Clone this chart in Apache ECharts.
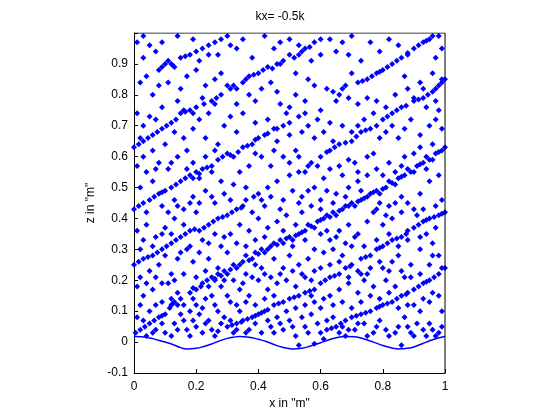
<!DOCTYPE html>
<html><head><meta charset="utf-8">
<script src="https://cdn.jsdelivr.net/npm/echarts@6/dist/echarts.min.js"></script>
<style>html,body{margin:0;padding:0;background:#fff}#c{width:560px;height:420px}</style>
</head><body><div id="c"></div>
<script>
const bandA=[[0.18,0.16],[0.20,0.17],[0.22,0.19],[0.24,0.18],[0.25,0.21],[0.27,0.22],[0.29,0.23],[0.30,0.22],[0.32,0.25],[0.33,0.24],[0.35,0.26],[0.36,0.28],[0.38,0.27],[0.39,0.29],[0.41,0.30],[0.42,0.29],[0.44,0.31],[0.45,0.32],[0.47,0.33],[0.48,0.32],[0.50,0.34],[0.51,0.33],[0.53,0.35],[0.55,0.36],[0.56,0.38],[0.58,0.37],[0.59,0.39],[0.61,0.40],[0.62,0.41],[0.64,0.42],[0.65,0.41],[0.67,0.43],[0.68,0.44],[0.70,0.45],[0.71,0.44],[0.73,0.46],[0.75,0.47],[0.76,0.48],[0.78,0.49],[0.79,0.48],[0.81,0.50],[0.82,0.52],[0.84,0.51],[0.85,0.53],[0.87,0.54],[0.88,0.56],[0.90,0.55],[0.91,0.57],[0.93,0.58],[0.94,0.60],[0.96,0.59],[0.97,0.61],[0.99,0.62],[1.0,0.63],
[0.19,0.175],[0.215,0.18],[0.235,0.2],[0.26,0.205],[0.28,0.215],[0.31,0.235],[0.34,0.25],[0.37,0.265],[0.4,0.285],[0.43,0.3],[0.46,0.315],[0.49,0.335],[0.52,0.345],[0.54,0.355],[0.57,0.375],[0.6,0.395],[0.63,0.405],[0.66,0.425],[0.69,0.44],[0.72,0.455],[0.74,0.465],[0.77,0.485],[0.8,0.495],[0.83,0.515],[0.86,0.535],[0.89,0.55],[0.92,0.575],[0.95,0.59],[0.98,0.615]];
const bandB=[[0.0,0.43],[0.03,0.45],[0.05,0.46],[0.08,0.48],[0.1,0.49],[0.12,0.5],[0.15,0.52],[0.18,0.54],[0.2,0.55],[0.22,0.56],[0.25,0.57],[0.27,0.59],[0.3,0.61],[0.32,0.6],[0.35,0.63],[0.38,0.64],[0.4,0.66],[0.42,0.67],[0.45,0.69],[0.48,0.7],[0.5,0.71],[0.53,0.73],[0.55,0.74],
[0.015,0.44],[0.065,0.47],[0.09,0.485],[0.135,0.51],[0.165,0.53],[0.21,0.545],[0.235,0.565],[0.285,0.6],[0.31,0.605],[0.335,0.615],[0.365,0.635],[0.39,0.655],[0.43,0.675],[0.46,0.69],[0.17,0.56],[0.19,0.53]];
const bandC=[[0,0.63],[0.03,0.65],[0.06,0.67],[0.09,0.69],[0.12,0.71],[0.15,0.74],[0.18,0.75],[0.2,0.76],[0.25,0.78],[0.28,0.8],[0.3,0.83],[0.33,0.82],[0.35,0.84],[0.37,0.86],[0.4,0.87],[0.43,0.89],[0.46,0.9],[0.48,0.91],[0.5,0.93],[0.53,0.93],[0.55,0.95],[0.58,0.97],[0.6,0.98],
[0.015,0.64],[0.045,0.66],[0.075,0.68],[0.105,0.7],[0.135,0.72],[0.165,0.745],[0.19,0.74],[0.225,0.77],[0.265,0.79],[0.31,0.82],[0.32,0.83],[0.36,0.85],[0.385,0.865],[0.415,0.88],[0.445,0.885],[0.47,0.9],[0.515,0.92],[0.54,0.94],[0.565,0.955]];
const bandD=[[0,0.25],[0.03,0.27],[0.06,0.28],[0.09,0.3],[0.12,0.32],[0.15,0.34],[0.18,0.36],[0.21,0.36],[0.24,0.38],[0.27,0.4],[0.3,0.41],[0.33,0.43],[0.35,0.44],[0.36,0.46],[0.4,0.48],[0.43,0.5],[0.46,0.52],[0.5,0.54],[0.53,0.55],[0.56,0.57],[0.6,0.6],[0.63,0.62],[0.66,0.64],[0.7,0.65],[0.73,0.68],[0.76,0.69],[0.8,0.72],[0.83,0.74],[0.86,0.76],[0.9,0.78],[0.93,0.79],[0.96,0.81],[0.98,0.83],[1,0.85],
[0.015,0.26],[0.045,0.275],[0.075,0.29],[0.105,0.31],[0.135,0.33],[0.165,0.35],[0.195,0.365],[0.225,0.37],[0.255,0.39],[0.285,0.405],[0.315,0.42],[0.345,0.435],[0.385,0.47],[0.62,0.615],[0.645,0.63],[0.68,0.645],[0.715,0.665],[0.745,0.685],[0.78,0.7],[0.815,0.73],[0.845,0.75],[0.875,0.765],[0.915,0.785],[0.945,0.8],[0.97,0.82],[0.99,0.84]];
const bandE=[[0.45,0.12],[0.48,0.13],[0.5,0.14],[0.53,0.15],[0.55,0.16],[0.58,0.17],[0.6,0.19],[0.63,0.21],[0.66,0.22],[0.68,0.24],[0.7,0.25],[0.73,0.27],[0.76,0.28],[0.78,0.3],[0.8,0.31],[0.83,0.33],[0.86,0.34],[0.88,0.36],[0.9,0.37],[0.93,0.39],[0.95,0.4],[0.98,0.41],[1,0.42],
[0.465,0.125],[0.515,0.145],[0.565,0.165],[0.615,0.2],[0.645,0.215],[0.695,0.245],[0.745,0.275],[0.79,0.305],[0.815,0.32],[0.845,0.335],[0.875,0.35],[0.915,0.38],[0.94,0.395],[0.965,0.405],[0.99,0.415]];
const bandF=[[0.62,0.04],[0.65,0.05],[0.68,0.07],[0.7,0.08],[0.73,0.09],[0.76,0.1],[0.78,0.11],[0.8,0.12],[0.83,0.13],[0.86,0.15],[0.88,0.16],[0.9,0.17],[0.93,0.19],[0.95,0.2],[0.98,0.22],[1,0.24],
[0.635,0.045],[0.665,0.06],[0.715,0.085],[0.745,0.095],[0.79,0.115],[0.815,0.125],[0.845,0.14],[0.875,0.155],[0.915,0.18],[0.94,0.195],[0.965,0.21]];
const bandG=[[0.02,0.04],[0.05,0.06],[0.08,0.08],[0.1,0.09],[0.12,0.12],[0.13,0.13],[0.3,0.05],[0.33,0.06],[0.35,0.07],[0.38,0.08],[0.4,0.09],[0.42,0.1],[0.22,0.03],[0.25,0.04],
[0.035,0.05],[0.065,0.07],[0.09,0.085],[0.115,0.11],[0.125,0.125],[0.14,0.12],[0.315,0.055],[0.345,0.065],[0.365,0.075],[0.39,0.085],[0.41,0.095],[0.43,0.105],[0.27,0.035],[0.005,0.03]];
const bandH=[[0.08,0.88],[0.1,0.9],[0.12,0.9],[0.13,0.89],[0.15,0.92],[0.18,0.93],[0.22,0.95],[0.26,0.97],[0.3,0.99],[0.72,0.84],[0.75,0.85],[0.78,0.87],[0.8,0.88],[0.83,0.9],[0.86,0.92],[0.9,0.95],[0.93,0.97],[0.95,0.98],
[0.09,0.89],[0.11,0.91],[0.125,0.895],[0.165,0.925],[0.2,0.94],[0.24,0.96],[0.28,0.98],[0.735,0.845],[0.765,0.86],[0.79,0.875],[0.815,0.89],[0.845,0.91],[0.88,0.935],[0.915,0.96],[0.94,0.975],[0.96,0.99]];
const scatter=[
[0.01,0.97],[0.05,0.96],[0.14,0.99],[0.19,0.98],[0.35,0.98],[0.42,0.99],[0.47,0.97],[0.63,0.98],[0.7,0.99],[0.76,0.97],[0.82,0.98],[0.98,0.99],
[0.03,0.92],[0.07,0.94],[0.21,0.91],[0.24,0.93],[0.33,0.95],[0.38,0.92],[0.53,0.96],[0.57,0.91],[0.65,0.94],[0.69,0.93],[0.73,0.91],[0.88,0.93],[0.97,0.92],
[0.02,0.84],[0.04,0.86],[0.11,0.84],[0.17,0.86],[0.2,0.88],[0.26,0.85],[0.28,0.87],[0.41,0.82],[0.44,0.84],[0.52,0.87],[0.56,0.85],[0.62,0.82],[0.64,0.81],[0.66,0.8],[0.68,0.83],[0.7,0.87],[0.87,0.86],[0.92,0.84],[0.96,0.87],[0.99,0.85],
[0.01,0.74],[0.05,0.73],[0.09,0.76],[0.14,0.78],[0.16,0.75],[0.22,0.79],[0.24,0.74],[0.26,0.77],[0.33,0.77],[0.35,0.74],[0.47,0.77],[0.5,0.76],[0.52,0.8],[0.55,0.78],[0.6,0.75],[0.72,0.77],[0.75,0.79],[0.78,0.78],[0.81,0.76],[0.88,0.82],[0.9,0.79],[0.94,0.76],[0.98,0.75],
[0.02,0.66],[0.06,0.62],[0.1,0.64],[0.13,0.68],[0.16,0.66],[0.19,0.69],[0.23,0.66],[0.27,0.64],[0.33,0.68],[0.43,0.72],[0.46,0.65],[0.5,0.67],[0.56,0.7],[0.58,0.66],[0.61,0.68],[0.64,0.65],[0.67,0.7],[0.7,0.68],[0.74,0.72],[0.77,0.74],[0.81,0.68],[0.85,0.66],[0.89,0.72],[0.92,0.67],[0.95,0.7],[0.99,0.69],
[0.01,0.57],[0.04,0.55],[0.08,0.58],[0.11,0.56],[0.14,0.6],[0.17,0.62],[0.21,0.53],[0.25,0.55],[0.28,0.52],[0.37,0.57],[0.39,0.61],[0.41,0.6],[0.44,0.57],[0.48,0.6],[0.52,0.62],[0.55,0.55],[0.57,0.58],[0.59,0.57],[0.63,0.56],[0.66,0.57],[0.69,0.59],[0.72,0.55],[0.75,0.6],[0.78,0.56],[0.82,0.58],[0.84,0.55],[0.87,0.6],[0.92,0.63],[0.96,0.64],[0.98,0.54],
[0.02,0.5],[0.06,0.52],[0.09,0.44],[0.13,0.46],[0.16,0.43],[0.19,0.47],[0.23,0.49],[0.26,0.45],[0.29,0.48],[0.32,0.51],[0.36,0.5],[0.42,0.44],[0.44,0.47],[0.48,0.46],[0.51,0.49],[0.54,0.47],[0.58,0.5],[0.6,0.46],[0.62,0.49],[0.65,0.48],[0.69,0.5],[0.72,0.52],[0.75,0.54],[0.79,0.45],[0.82,0.44],[0.86,0.47],[0.88,0.45],[0.92,0.48],[0.95,0.52],[0.99,0.46],
[0.01,0.36],[0.04,0.38],[0.07,0.34],[0.1,0.37],[0.13,0.4],[0.16,0.38],[0.2,0.42],[0.22,0.33],[0.26,0.35],[0.28,0.31],[0.31,0.35],[0.34,0.38],[0.37,0.36],[0.4,0.4],[0.43,0.37],[0.46,0.39],[0.49,0.41],[0.52,0.38],[0.54,0.42],[0.57,0.44],[0.6,0.35],[0.63,0.33],[0.66,0.36],[0.69,0.38],[0.72,0.35],[0.75,0.39],[0.77,0.42],[0.8,0.38],[0.83,0.4],[0.86,0.42],[0.9,0.43],[0.94,0.35],[0.97,0.37],
[0.02,0.3],[0.05,0.23],[0.08,0.25],[0.1,0.28],[0.12,0.22],[0.14,0.27],[0.17,0.3],[0.19,0.26],[0.21,0.29],[0.24,0.27],[0.27,0.24],[0.3,0.29],[0.33,0.32],[0.36,0.22],[0.39,0.25],[0.42,0.22],[0.45,0.27],[0.48,0.24],[0.5,0.28],[0.53,0.25],[0.56,0.27],[0.58,0.23],[0.61,0.29],[0.64,0.3],[0.67,0.28],[0.7,0.31],[0.73,0.22],[0.76,0.24],[0.79,0.26],[0.82,0.23],[0.85,0.28],[0.89,0.25],[0.92,0.3],[0.96,0.28],[0.99,0.24],
[0.01,0.18],[0.03,0.15],[0.06,0.17],[0.09,0.13],[0.11,0.19],[0.14,0.16],[0.16,0.12],[0.19,0.14],[0.22,0.11],[0.25,0.15],[0.28,0.18],[0.31,0.13],[0.34,0.17],[0.37,0.15],[0.4,0.2],[0.43,0.17],[0.46,0.19],[0.49,0.2],[0.52,0.18],[0.55,0.21],[0.58,0.13],[0.6,0.11],[0.63,0.15],[0.66,0.17],[0.69,0.19],[0.72,0.16],[0.74,0.2],[0.77,0.18],[0.81,0.2],[0.84,0.18],[0.87,0.21],[0.9,0.12],[0.93,0.14],[0.96,0.16],[0.99,0.1],
[0.01,0.08],[0.04,0.02],[0.07,0.04],[0.1,0.03],[0.13,0.06],[0.15,0.09],[0.17,0.04],[0.19,0.07],[0.21,0.09],[0.24,0.07],[0.27,0.1],[0.29,0.08],[0.32,0.03],[0.34,0.1],[0.37,0.04],[0.39,0.06],[0.44,0.05],[0.46,0.08],[0.48,0.04],[0.5,0.07],[0.52,0.02],[0.55,0.05],[0.57,0.09],[0.59,0.06],[0.61,0.01],[0.64,0.08],[0.66,0.03],[0.68,0.02],[0.71,0.04],[0.74,0.06],[0.77,0.03],[0.79,0.07],[0.82,0.02],[0.85,0.05],[0.87,0.08],[0.89,0.03],[0.91,0.06],[0.94,0.02],[0.96,0.04],[0.98,0.03],[0.53,-0.01],[0.58,-0.005],[0.86,-0.01],
[0.03,0.99],[0.09,0.97],[0.27,0.93],[0.31,0.96],[0.45,0.95],[0.5,0.98],[0.6,0.93],[0.67,0.97],[0.79,0.94],[0.85,0.96],[0.99,0.95],
[0.06,0.8],[0.08,0.83],[0.15,0.82],[0.23,0.83],[0.37,0.8],[0.39,0.78],[0.46,0.81],[0.58,0.83],[0.65,0.78],[0.67,0.82],[0.69,0.79],[0.84,0.8],[0.93,0.82],[0.97,0.78],
[0.03,0.7],[0.07,0.72],[0.21,0.72],[0.29,0.7],[0.31,0.73],[0.39,0.71],[0.49,0.74],[0.54,0.68],[0.59,0.72],[0.63,0.71],[0.72,0.7],[0.79,0.66],[0.83,0.7],[0.87,0.69],[0.97,0.72],
[0.03,0.6],[0.07,0.56],[0.12,0.58],[0.19,0.58],[0.23,0.6],[0.26,0.62],[0.34,0.55],[0.45,0.62],[0.5,0.58],[0.53,0.6],[0.61,0.53],[0.67,0.54],[0.71,0.58],[0.77,0.61],[0.8,0.54],[0.86,0.57],[0.9,0.61],[0.94,0.56],
[0.04,0.42],[0.11,0.42],[0.14,0.44],[0.18,0.45],[0.21,0.45],[0.25,0.47],[0.31,0.46],[0.38,0.42],[0.41,0.46],[0.47,0.43],[0.53,0.45],[0.56,0.49],[0.6,0.43],[0.64,0.45],[0.68,0.47],[0.73,0.49],[0.78,0.43],[0.81,0.41],[0.84,0.45],[0.91,0.41],[0.93,0.43],[0.97,0.44],
[0.03,0.33],[0.06,0.31],[0.09,0.35],[0.12,0.35],[0.15,0.29],[0.18,0.31],[0.24,0.32],[0.29,0.34],[0.36,0.31],[0.39,0.33],[0.42,0.34],[0.48,0.36],[0.51,0.31],[0.55,0.33],[0.58,0.3],[0.62,0.36],[0.65,0.34],[0.68,0.32],[0.71,0.34],[0.74,0.31],[0.78,0.33],[0.82,0.35],[0.85,0.31],[0.88,0.33],[0.92,0.34],[0.96,0.32],
[0.02,0.21],[0.04,0.19],[0.07,0.21],[0.09,0.19],[0.13,0.2],[0.16,0.22],[0.2,0.21],[0.23,0.23],[0.26,0.2],[0.29,0.2],[0.32,0.2],[0.35,0.19],[0.38,0.21],[0.41,0.24],[0.44,0.21],[0.47,0.22],[0.51,0.23],[0.54,0.22],[0.57,0.2],[0.6,0.24],[0.63,0.25],[0.66,0.26],[0.69,0.21],[0.72,0.23],[0.75,0.22],[0.8,0.24],[0.83,0.26],[0.86,0.23],[0.89,0.21],[0.92,0.22],[0.95,0.25],[0.98,0.28],
[0.02,0.12],[0.05,0.1],[0.07,0.12],[0.12,0.14],[0.15,0.14],[0.18,0.1],[0.2,0.12],[0.23,0.14],[0.26,0.12],[0.3,0.15],[0.33,0.12],[0.36,0.13],[0.39,0.12],[0.42,0.14],[0.45,0.15],[0.49,0.1],[0.52,0.11],[0.55,0.12],[0.57,0.15],[0.61,0.14],[0.64,0.12],[0.67,0.13],[0.7,0.11],[0.73,0.13],[0.76,0.15],[0.79,0.14],[0.82,0.16],[0.85,0.11],[0.88,0.12],[0.92,0.1],[0.95,0.13],[0.98,0.15],
[0.03,0.07],[0.06,0.03],[0.09,0.06],[0.12,0.02],[0.14,0.04],[0.16,0.07],[0.18,0.02],[0.2,0.05],[0.23,0.06],[0.26,0.02],[0.28,0.06],[0.31,0.07],[0.33,0.04],[0.36,0.03],[0.41,0.03],[0.43,0.07],[0.45,0.03],[0.47,0.06],[0.51,0.05],[0.54,0.08],[0.56,0.03],[0.6,0.03],[0.62,0.07],[0.67,0.05],[0.69,0.04],[0.72,0.06],[0.75,0.02],[0.78,0.05],[0.81,0.04],[0.84,0.03],[0.88,0.05],[0.9,0.02],[0.93,0.04],[0.95,0.06],[0.97,0.02],[0.99,0.05]
];
const surfX=[0,0.025,0.05,0.075,0.1,0.125,0.15,0.17,0.2,0.225,0.25,0.275,0.3,0.32,0.34,0.37,0.4,0.425,0.45,0.475,0.5,0.51,0.54,0.57,0.6,0.625,0.65,0.68,0.71,0.74,0.77,0.8,0.83,0.85,0.88,0.91,0.94,0.97,1];
const surfZ=[0.018,0.017,0.013,0.007,0.0,-0.008,-0.018,-0.022,-0.02,-0.014,-0.006,0.004,0.012,0.016,0.018,0.016,0.009,0.002,-0.008,-0.016,-0.021,-0.022,-0.02,-0.012,-0.002,0.007,0.014,0.018,0.017,0.01,0.0,-0.011,-0.019,-0.022,-0.02,-0.012,0.0,0.011,0.018];
const pts=[].concat(bandA,bandB,bandC,bandD,bandE,bandF,bandG,bandH,scatter);
const surf=surfX.map((x,i)=>[x,surfZ[i]]);
const chart=echarts.init(document.getElementById('c'));
const font='Liberation Sans';
chart.setOption({
 animation:false,
 title:{text:'kx= -0.5k',left:'center',top:6,textStyle:{fontFamily:font,fontSize:12,fontWeight:'normal',color:'#000'}},
 grid:{left:134,right:115,top:33,bottom:47},
 xAxis:{type:'value',min:0,max:1,interval:0.2,name:'x in "m"',nameLocation:'middle',nameGap:20,
  nameTextStyle:{fontFamily:font,fontSize:12,color:'#000'},
  axisLine:{show:true,onZero:false,lineStyle:{color:'#000'}},axisTick:{inside:true,length:4,lineStyle:{color:'#000'}},
  axisLabel:{fontFamily:font,fontSize:12,color:'#000',margin:8,formatter:v=>String(+v.toFixed(1))},splitLine:{show:false}},
 yAxis:{type:'value',min:-0.1,max:1,interval:0.1,name:'z in "m"',nameLocation:'middle',nameGap:30,
  nameTextStyle:{fontFamily:font,fontSize:12,color:'#000'},
  axisLine:{show:true,onZero:false,lineStyle:{color:'#000'}},axisTick:{inside:true,length:4,lineStyle:{color:'#000'}},
  axisLabel:{fontFamily:font,fontSize:12,color:'#000',margin:6,formatter:v=>v>=0.95?'':String(+v.toFixed(1))},splitLine:{show:false}},
 series:[
  {type:'scatter',data:pts,symbol:'diamond',symbolSize:6,itemStyle:{color:'#0000ff',opacity:1}},
  {type:'line',data:surf,showSymbol:false,smooth:true,lineStyle:{color:'#0000ff',width:1.5}},
  {type:'line',data:[[0,1],[1,1]],showSymbol:false,lineStyle:{color:'#000',width:1},silent:true},
  {type:'line',data:[[1,-0.1],[1,1]],showSymbol:false,lineStyle:{color:'#000',width:1},silent:true}
 ]
});
</script></body></html>
